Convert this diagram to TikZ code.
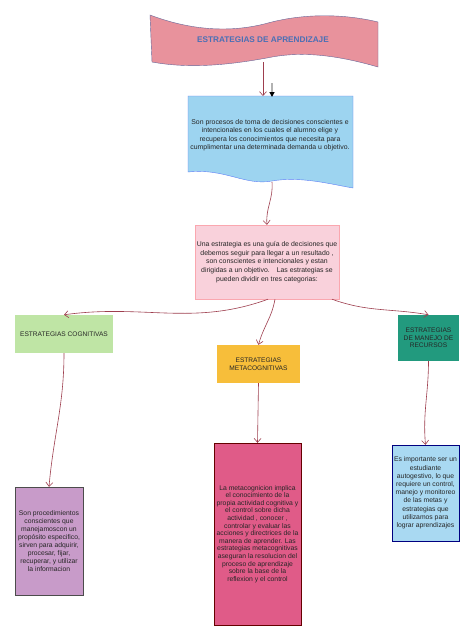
\documentclass[tikz,border=0pt]{standalone}
\usepackage{fontspec}
\setmainfont{Liberation Sans}
\usetikzlibrary{arrows.meta}

\definecolor{arrowred}{HTML}{9E3E4E}
\definecolor{bannerfill}{HTML}{E8929C}
\definecolor{titleblue}{HTML}{4A6FB5}
\definecolor{docblue}{HTML}{9DD4F0}
\definecolor{pinkbox}{HTML}{F9D1DB}
\definecolor{greenbox}{HTML}{BFE5A5}
\definecolor{yellowbox}{HTML}{F7BE3A}
\definecolor{tealbox}{HTML}{229A7E}
\definecolor{purplebox}{HTML}{C89BC9}
\definecolor{magentabox}{HTML}{E05B88}
\definecolor{skybox}{HTML}{A9D9F2}

\begin{document}
\begin{tikzpicture}[x=1pt,y=-1pt,
  arr/.style={draw=arrowred,semithick,-{Straight Barb[length=4pt,width=7pt]}},
  box/.style={rectangle,align=center,inner sep=2pt,text=black!85,
    font=\fontsize{6.9}{8.5}\selectfont},
  head/.style={box,font=\fontsize{6.6}{7.6}\selectfont}]
  \useasboundingbox[fill=white] (0,0) rectangle (474,641);
  % title banner
  \draw[fill=bannerfill,draw=gray!80!blue] (150,15) .. controls (195,32) and (235,32) .. (268,23)
    .. controls (305,13) and (345,14) .. (378,22) -- (378,67)
    .. controls (340,56) and (305,51) .. (272,57) .. controls (230,65) and (190,69) .. (152,62) -- cycle;
  \node[font=\bfseries\fontsize{8.2}{9}\selectfont,text=titleblue] (banner) at (263,40) {ESTRATEGIAS DE APRENDIZAJE};
  \coordinate (bannerB) at (263,62);
  % document shape
  \draw[fill=docblue,draw=docblue!60!blue] (188,96) -- (353,96) -- (353,188)
    .. controls (330,184) and (300,176) .. (272,181) .. controls (245,186) and (225,168) .. (188,172) -- cycle;
  \node[box] (proc) at (270,135) {Son procesos de toma de decisiones conscientes e\\intencionales en los cuales el alumno elige y\\recupera los conocimientos que necesita para\\cumplimentar una determinada demanda u objetivo.};
  \coordinate (procT) at (263,96);
  \coordinate (procB) at (272,182);
  \draw[gray!60,line width=2pt,-{Triangle[length=5pt,width=5pt,color=black]}] (272,83) -- (272,97);
  % boxes
  \node[box,fill=pinkbox,draw=pinkbox!80!red,minimum width=142,minimum height=74,font=\fontsize{6.9}{8.6}\selectfont] (guia) at (267,262)
    {Una estrategia es una guía de decisiones que\\debemos seguir para llegar a un resultado ,\\son conscientes e intencionales y estan\\dirigidas a un objetivo.\quad Las estrategias se\\pueden dividir en tres categorias:};
  \node[head,fill=greenbox,minimum width=98,minimum height=38] (cogn) at (64,334) {ESTRATEGIAS COGNITIVAS};
  \node[head,fill=yellowbox,minimum width=83,minimum height=38] (meta) at (258.5,364) {ESTRATEGIAS\\METACOGNITIVAS};
  \node[head,fill=tealbox,minimum width=61,minimum height=46] (recur) at (428.5,338) {ESTRATEGIAS\\DE MANEJO DE\\RECURSOS};
  \node[box,fill=purplebox,draw=black!70,minimum width=68,minimum height=108,font=\fontsize{6.8}{8}\selectfont] (cognTxt) at (49,541)
    {Son procedimientos\\conscientes que\\manejamoscon un\\propósito especifico,\\sirven para adquirir,\\procesar, fijar,\\recuperar, y utilizar\\la informacion};
  \node[box,fill=magentabox,draw=black!60!red,minimum width=87,minimum height=182,font=\fontsize{6.8}{7.6}\selectfont] (metaTxt) at (257.5,534)
    {La metacognicion implica\\el conocimiento de la\\propia actividad cognitiva y\\el control sobre dicha\\actividad , conocer ,\\controlar y evaluar las\\acciones y directrices de la\\manera de aprender. Las\\estrategias metacognitivas\\aseguran la resolucion del\\proceso de aprendizaje\\sobre la base de la\\reflexion y el control};
  \node[box,fill=skybox,draw=blue!50!black,minimum width=67,minimum height=96,font=\fontsize{6.8}{8.2}\selectfont] (recurTxt) at (425.5,493)
    {Es importante ser un\\estudiante\\autogestivo, lo que\\requiere un control,\\manejo y monitoreo\\de las metas y\\estrategias que\\utilizamos para\\lograr aprendizajes};
  % connectors
  \draw[arr] (bannerB) -- (procT);
  \draw[arr] (procB) to[out=-85,in=95] (guia.north);
  \draw[arr] ([xshift=1pt]guia.south) to[out=200,in=8] (cogn.north);
  \draw[arr] ([xshift=8pt]guia.south) to[out=-100,in=75] (meta.north);
  \draw[arr] ([xshift=65pt]guia.south) to[out=-20,in=170] (recur.north);
  \draw[arr] (cogn.south) to[out=-90,in=85] (cognTxt.north);
  \draw[arr] (meta.south) -- (metaTxt.north);
  \draw[arr] (recur.south) to[out=-90,in=95] (recurTxt.north);
\end{tikzpicture}
\end{document}
